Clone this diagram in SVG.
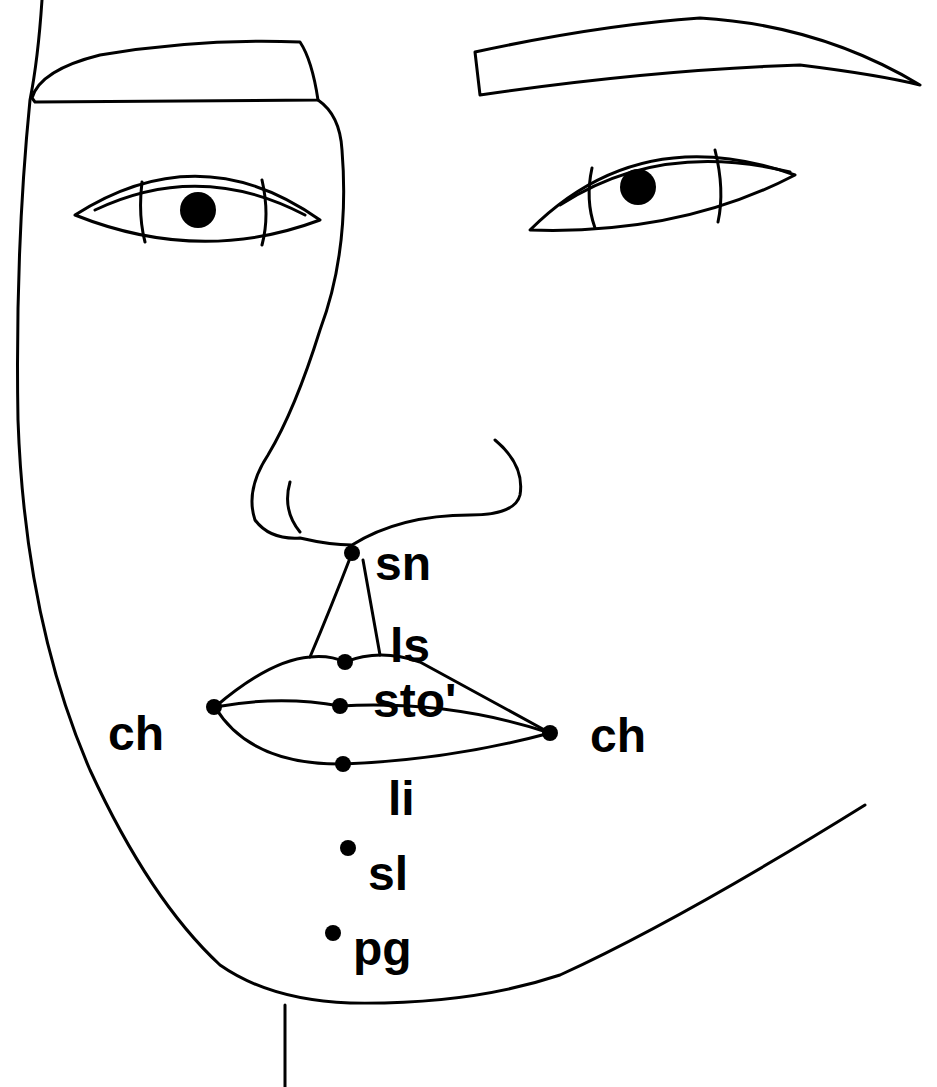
<svg xmlns="http://www.w3.org/2000/svg" width="937" height="1087" viewBox="0 0 937 1087">
<style>
.l{fill:none;stroke:#000;stroke-width:3;stroke-linecap:round;stroke-linejoin:round}
.t{font-family:"Liberation Sans",Arial,sans-serif;font-weight:bold;font-size:48px;fill:#000}
</style>
<rect width="937" height="1087" fill="#fff"/>
<g id="face">
<path class="l" d="M42,0 Q38,60 30,100 Q15,250 18,420 Q25,620 90,770 Q150,900 220,965 Q270,1000 350,1003 Q470,1005 560,975 Q680,920 865,805"/>
<path class="l" d="M285,1005 L285,1087"/>
<path class="l" d="M32,98 Q40,70 100,55 Q200,38 300,42 Q312,60 318,100 L35,102 Z"/>
<path class="l" d="M318,100 Q340,115 342,150 Q350,250 320,330 Q295,410 268,455 Q245,490 255,520 Q270,540 300,538 Q330,545 352,545 Q400,515 470,515 Q515,515 520,495 Q525,465 495,440"/>
<path class="l" d="M290,482 Q282,510 300,532"/>
<path class="l" d="M475,52 Q600,25 700,18 Q820,25 920,85 Q880,75 800,65 Q650,70 480,95 Z"/>
<path class="l" d="M75,215 Q200,135 320,220 Q200,265 75,215 Z"/>
<path class="l" d="M95,210 Q200,160 305,215"/>
<path class="l" d="M142,182 Q138,215 145,242 M262,180 Q270,215 262,245"/>
<circle cx="198" cy="210" r="18"/>
<path class="l" d="M530,230 Q640,120 795,175 Q680,235 530,230 Z"/>
<path class="l" d="M560,205 Q660,140 790,172"/>
<path class="l" d="M592,168 Q585,200 595,228 M715,150 Q725,190 718,222"/>
<circle cx="638" cy="187" r="18"/>
<path class="l" d="M352,553 Q330,610 310,657 M363,560 Q372,610 380,655"/>
<path class="l" d="M215,707 Q270,660 310,657 Q330,655 345,662 Q380,648 420,662 Q490,700 550,733"/>
<path class="l" d="M215,707 Q280,695 340,706 Q450,700 550,733"/>
<path class="l" d="M215,707 Q250,765 343,764 Q450,760 550,733"/>
</g>
<g id="points">
<circle cx="352" cy="553" r="8"/>
<circle cx="345" cy="662" r="8"/>
<circle cx="340" cy="706" r="8"/>
<circle cx="214" cy="707" r="8"/>
<circle cx="550" cy="733" r="8"/>
<circle cx="343" cy="764" r="8"/>
<circle cx="348" cy="848" r="8"/>
<circle cx="333" cy="933" r="8"/>
<text class="t" x="375" y="580">sn</text>
<text class="t" x="390" y="662">ls</text>
<text class="t" x="373" y="717">sto'</text>
<text class="t" x="108" y="750">ch</text>
<text class="t" x="590" y="752">ch</text>
<text class="t" x="388" y="815">li</text>
<text class="t" x="368" y="890">sl</text>
<text class="t" x="353" y="965">pg</text>
</g>
</svg>
